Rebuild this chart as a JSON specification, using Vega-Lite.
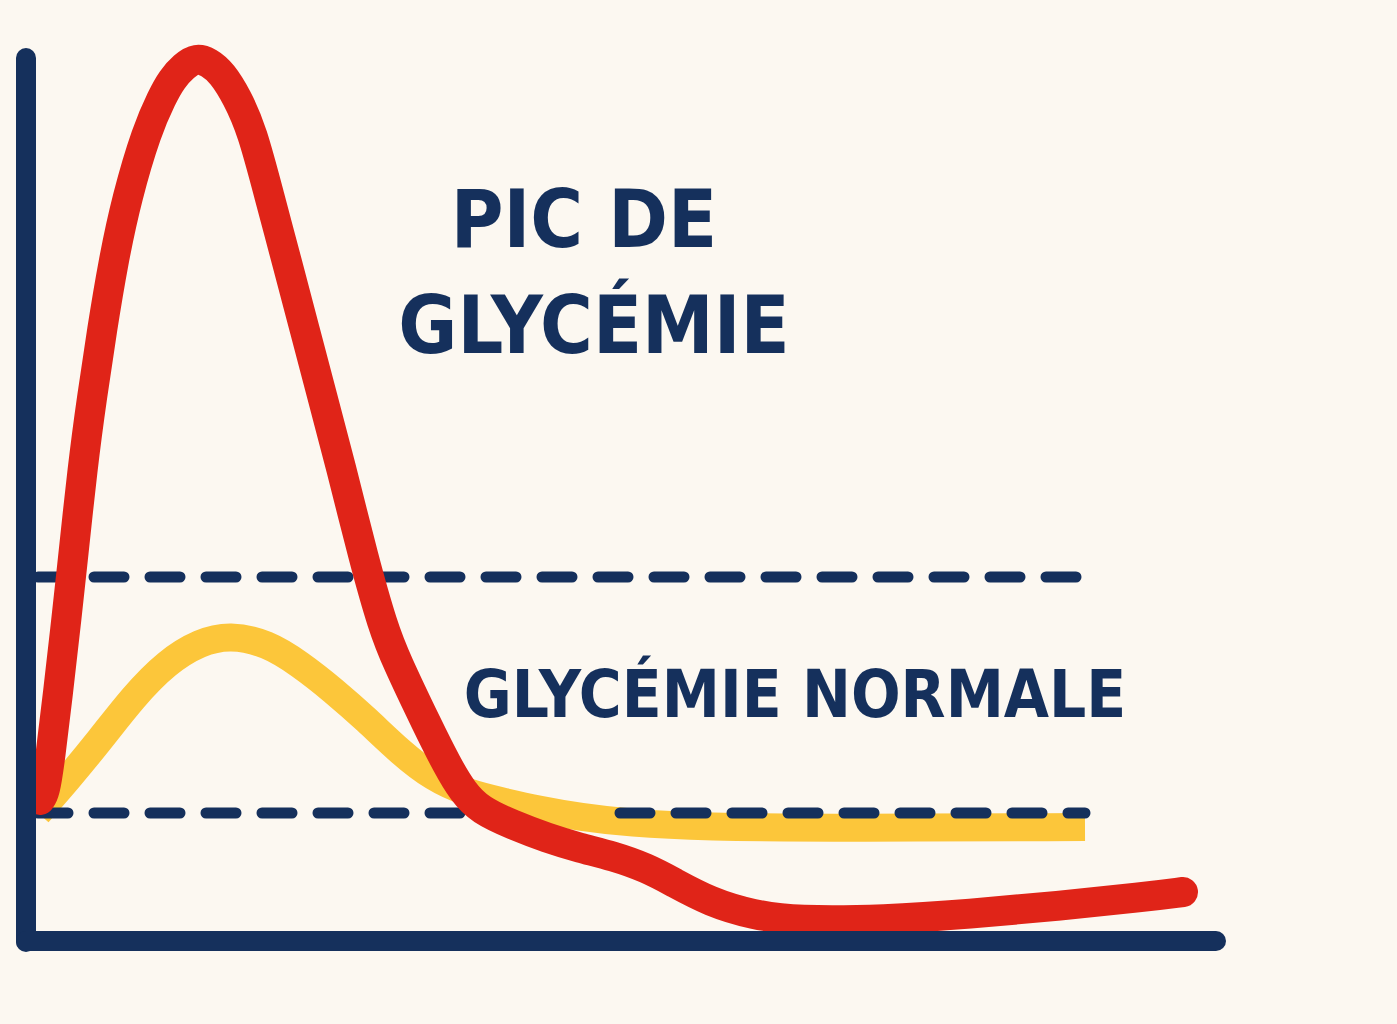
{
  "$schema": "https://vega.github.io/schema/vega-lite/v6.json",
  "autosize": {"type": "none"},
  "width": 1200,
  "height": 900,
  "padding": {"left": 26, "right": 171, "top": 41, "bottom": 83},
  "background": "#FCF8F1",
  "config": {"view": {"stroke": null}},
  "datasets": {
    "pic": [
      {"t": 1.4, "g": 35.25}, {"t": 1.9, "g": 37}, {"t": 2.4, "g": 45.25}, {"t": 3.2, "g": 62},
      {"t": 3.95, "g": 78.5}, {"t": 4.5, "g": 91}, {"t": 5.7, "g": 119.5}, {"t": 6.6, "g": 136},
      {"t": 7.6, "g": 152.75}, {"t": 8.7, "g": 169.5}, {"t": 10.1, "g": 186}, {"t": 12.1, "g": 202.75},
      {"t": 13.6, "g": 211}, {"t": 14.6, "g": 215.5}, {"t": 15.8, "g": 218.75}, {"t": 17.0, "g": 220.75},
      {"t": 18.3, "g": 219.75}, {"t": 19.6, "g": 217}, {"t": 21.1, "g": 211}, {"t": 22.6, "g": 202.75},
      {"t": 24.36, "g": 186}, {"t": 26.12, "g": 169.5}, {"t": 27.88, "g": 152.75}, {"t": 29.64, "g": 136},
      {"t": 31.4, "g": 119.5}, {"t": 33.8, "g": 95.25}, {"t": 35.7, "g": 78.5}, {"t": 37.0, "g": 70.25},
      {"t": 40.2, "g": 53.5}, {"t": 42.1, "g": 44}, {"t": 43.7, "g": 37.25}, {"t": 45.4, "g": 32.75},
      {"t": 48.7, "g": 29}, {"t": 52.1, "g": 25.75}, {"t": 55.4, "g": 23.25}, {"t": 58.7, "g": 21.25},
      {"t": 62.1, "g": 18.25}, {"t": 64.7, "g": 14.75}, {"t": 68.4, "g": 9.75}, {"t": 72.7, "g": 6.5},
      {"t": 77.1, "g": 5}, {"t": 85.8, "g": 5.25}, {"t": 94.4, "g": 6.75}, {"t": 103.1, "g": 8.75},
      {"t": 111.8, "g": 11}, {"t": 115.7, "g": 12.25}
    ],
    "normale": [
      {"t": 1.2, "g": 32}, {"t": 4.1, "g": 40.25}, {"t": 7.4, "g": 50.25}, {"t": 10.7, "g": 61},
      {"t": 14.1, "g": 69.75}, {"t": 17.4, "g": 74.75}, {"t": 20.4, "g": 76.5}, {"t": 24.1, "g": 74.5},
      {"t": 27.4, "g": 69.25}, {"t": 30.7, "g": 62.75}, {"t": 34.1, "g": 55.25}, {"t": 37.4, "g": 47.25},
      {"t": 40.7, "g": 40.75}, {"t": 44.1, "g": 37}, {"t": 47.4, "g": 35}, {"t": 51.4, "g": 32.75},
      {"t": 55.4, "g": 31}, {"t": 60.4, "g": 29.5}, {"t": 67.4, "g": 28.5}, {"t": 82.4, "g": 28.25},
      {"t": 105.9, "g": 28.5}
    ],
    "seuils": [
      {"seg": "haut", "t": 1.2, "g": 91}, {"seg": "haut", "t": 105.2, "g": 91},
      {"seg": "bas1", "t": 1.2, "g": 32}, {"seg": "bas1", "t": 45.4, "g": 32},
      {"seg": "bas2", "t": 59.4, "g": 32}, {"seg": "bas2", "t": 105.9, "g": 32}
    ],
    "axes": [
      {"t": 0, "g": -0.25, "t2": 0, "g2": 220.75},
      {"t": 0, "g": 0, "t2": 119, "g2": 0}
    ],
    "labels": [
      {"t": 55.8, "g": 173.5, "label": "PIC DE", "fs": 80},
      {"t": 56.8, "g": 147, "label": "GLYCÉMIE", "fs": 80},
      {"t": 76.9, "g": 56, "label": "GLYCÉMIE NORMALE", "fs": 65}
    ]
  },
  "encoding": {
    "x": {"field": "t", "type": "quantitative", "scale": {"domain": [0, 120], "nice": false, "zero": false}, "axis": null},
    "y": {"field": "g", "type": "quantitative", "scale": {"domain": [0, 225], "nice": false, "zero": false}, "axis": null}
  },
  "layer": [
    {
      "data": {"name": "normale"},
      "mark": {"type": "line", "interpolate": "basis", "color": "#FCC63A", "strokeWidth": 28, "strokeCap": "butt", "strokeJoin": "round"}
    },
    {
      "data": {"name": "seuils"},
      "mark": {"type": "line", "color": "#15305C", "strokeWidth": 11, "strokeCap": "round", "strokeDash": [30, 26]},
      "encoding": {"detail": {"field": "seg"}}
    },
    {
      "data": {"name": "pic"},
      "mark": {"type": "line", "interpolate": "basis", "color": "#E02418", "strokeWidth": 30, "strokeCap": "round", "strokeJoin": "round"}
    },
    {
      "data": {"name": "axes"},
      "mark": {"type": "rule", "color": "#15305C", "strokeWidth": 20, "strokeCap": "round"},
      "encoding": {
        "x2": {"field": "t2"},
        "y2": {"field": "g2"}
      }
    },
    {
      "data": {"name": "labels"},
      "mark": {"type": "text", "font": "DejaVu Sans Condensed", "fontWeight": "bold", "color": "#15305C", "align": "center", "baseline": "alphabetic"},
      "encoding": {
        "text": {"field": "label"},
        "size": {"field": "fs", "type": "quantitative", "scale": null}
      }
    }
  ]
}
